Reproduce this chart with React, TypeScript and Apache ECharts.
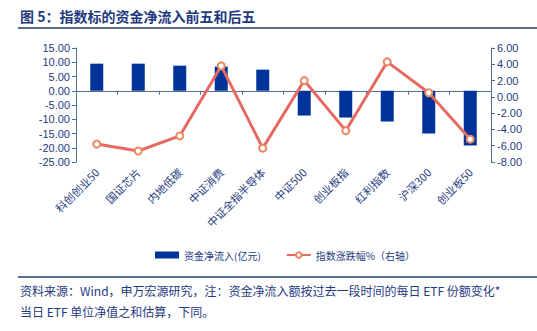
import React, { useEffect, useRef } from "react";
import * as echarts from "echarts";

const categories = ["科创创业50", "国证芯片", "内地低碳", "中证消费", "中证全指半导体", "中证500", "创业板指", "红利指数", "沪深300", "创业板50"];
const netInflow = [9.5, 9.5, 8.8, 8.5, 7.4, -8.7, -9.4, -10.8, -15.0, -19.2];
const indexChange = [-5.8, -6.65, -4.8, 3.8, -6.3, 2.0, -4.15, 4.3, 0.5, -5.2];
const leftTicks = { min: -25, max: 15, interval: 5 };
const rightTicks = { min: -8, max: 6, interval: 2 };
const titleText = "图 5：指数标的资金净流入前五和后五";
const sourceLine1 = "资料来源：Wind，申万宏源研究，注：资金净流入额按过去一段时间的每日 ETF 份额变化*";
const sourceLine2 = "当日 ETF 单位净值之和估算，下同。";
const seriesNames = ["资金净流入(亿元)", "指数涨跌幅%（右轴）"];

const FONT = "'Noto Sans CJK SC', 'Liberation Sans', sans-serif";
const NAVY = "#1F3A7F";
const AXIS = "#4F7196";

export default function App() {
  const ref = useRef<HTMLDivElement>(null);
  useEffect(() => {
    if (!ref.current) return;
    const chart = echarts.init(ref.current, undefined, { renderer: "svg" });
    chart.setOption({
      animation: false,
      backgroundColor: "#ffffff",
      textStyle: { fontFamily: FONT },
      grid: { left: 76, right: 46, top: 48, bottom: 169 },
      legend: {
        left: 150,
        top: 245,
        itemGap: 25,
        itemWidth: 24,
        itemHeight: 7,
        textStyle: { color: NAVY, fontSize: 10, fontFamily: FONT },
        data: [
          { name: seriesNames[0], icon: "rect" },
          { name: seriesNames[1] },
        ],
      },
      xAxis: [
        {
          type: "category",
          data: categories,
          position: "bottom",
          axisLine: { show: false, onZero: false },
          axisTick: { show: false },
          axisLabel: { rotate: 45, interval: 0, color: NAVY, fontSize: 11, margin: 8, fontFamily: FONT },
        },
        {
          type: "category",
          data: categories,
          position: "bottom",
          axisLine: { show: true, onZero: true, onZeroAxisIndex: 0, lineStyle: { color: AXIS, width: 1 } },
          axisTick: { show: true, interval: 0, length: 4, lineStyle: { color: AXIS } },
          axisLabel: { show: false },
        },
      ],
      yAxis: [
        {
          type: "value",
          min: leftTicks.min,
          max: leftTicks.max,
          interval: leftTicks.interval,
          splitLine: { show: false },
          axisLine: { show: true, lineStyle: { color: AXIS } },
          axisTick: { show: true, length: 4, lineStyle: { color: AXIS } },
          axisLabel: { color: NAVY, fontSize: 11, margin: 6, formatter: (v: number) => v.toFixed(2), fontFamily: "'Liberation Sans', Arial, sans-serif" },
        },
        {
          type: "value",
          min: rightTicks.min,
          max: rightTicks.max,
          interval: rightTicks.interval,
          splitLine: { show: false },
          axisLine: { show: true, lineStyle: { color: AXIS } },
          axisTick: { show: true, length: 4, lineStyle: { color: AXIS } },
          axisLabel: { color: NAVY, fontSize: 11, margin: 6, formatter: (v: number) => v.toFixed(2), fontFamily: "'Liberation Sans', Arial, sans-serif" },
        },
      ],
      series: [
        {
          name: seriesNames[0],
          type: "bar",
          data: netInflow,
          barWidth: 13,
          xAxisIndex: 0,
          yAxisIndex: 0,
          itemStyle: { color: "#003399" },
        },
        {
          name: seriesNames[1],
          type: "line",
          data: indexChange,
          xAxisIndex: 0,
          yAxisIndex: 1,
          symbol: "emptyCircle",
          symbolSize: 7,
          lineStyle: { color: "#E46A62", width: 3 },
          itemStyle: { color: "#EB8A5E", borderColor: "#EB8A5E", borderWidth: 1 },
        },
      ],
      graphic: [
        {
          type: "text",
          left: 20,
          top: 9,
          style: { text: titleText, fill: NAVY, font: `bold 14px ${FONT}` },
        },
        {
          type: "line",
          shape: { x1: 18, y1: 28, x2: 537, y2: 28 },
          style: { stroke: "#1F3A6F", lineWidth: 1.5 },
        },
        {
          type: "line",
          shape: { x1: 18, y1: 277, x2: 537, y2: 277 },
          style: { stroke: "#1F3A6F", lineWidth: 1.5 },
        },
        {
          type: "text",
          left: 20,
          top: 284,
          style: { text: sourceLine1, fill: NAVY, font: `12px ${FONT}` },
        },
        {
          type: "text",
          left: 20,
          top: 305,
          style: { text: sourceLine2, fill: NAVY, font: `12px ${FONT}` },
        },
      ],
    });
    return () => chart.dispose();
  }, []);
  return (
    <div
      ref={ref}
      style={{ position: "fixed", left: 0, top: 0, width: 537, height: 331, background: "#fff" }}
    />
  );
}
